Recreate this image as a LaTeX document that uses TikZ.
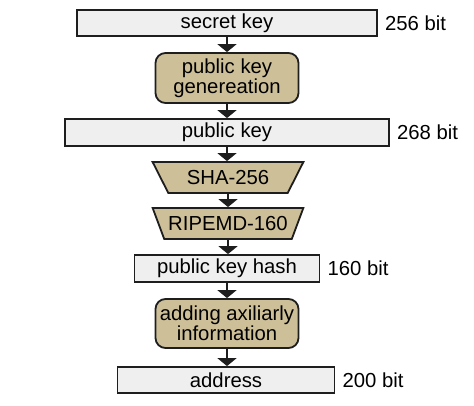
\documentclass[tikz,border=0pt]{standalone}
\usepackage{fontspec}
\setmainfont{Liberation Sans}
\usetikzlibrary{positioning,shapes.geometric,arrows.meta}
\definecolor{stagetan}{HTML}{CDBF98}
\definecolor{datagray}{HTML}{EFEFEF}
\definecolor{edgegray}{HTML}{1E1E1E}

\begin{document}
\begin{tikzpicture}[x=1pt, y=-1pt, font=\fontsize{20.3}{20}\selectfont,
    databox/.style={draw=edgegray, line width=1.8pt, fill=datagray, minimum height=26pt, inner sep=0pt},
    stagebox/.style={draw=edgegray, line width=1.8pt, fill=stagetan, rounded corners=10pt, minimum width=143pt, minimum height=50pt, align=center, inner sep=0pt},
    hashbox/.style={trapezium, shape border rotate=180, trapezium stretches=true, trapezium angle=53, minimum width=151pt, minimum height=31pt, draw=edgegray, line width=1.8pt, fill=stagetan, inner sep=0pt},
    bits/.style={inner sep=0pt, right=7pt of #1},
    flow/.style={-{Triangle[width=19pt,length=8pt]}, line width=1.8pt, draw=edgegray}]

    \useasboundingbox (0,0) rectangle (474,406);

    % Draw the key and hash boxes
    \node[databox, minimum width=300pt] (secret) at (227,23) {secret key};
    \node[stagebox] (gen) at (227,78) {public key\\genereation};
    \node[databox, minimum width=324pt, minimum height=27pt] (public) at (227,132.5) {public key};
    \node[hashbox] (sha) at (228,177.5) {SHA-256};
    \node[hashbox] (ripe) at (228,223.5) {RIPEMD-160};
    \node[databox, minimum width=185pt, minimum height=27pt] (pkhash) at (227,268.5) {public key hash};
    \node[stagebox, minimum height=49pt] (aux) at (227,323.5) {adding axiliarly\\information};
    \node[databox, minimum width=217pt] (addr) at (226,380) {address};

    % Bit lengths
    \node[bits=secret] (secretbits) {256 bit};
    \node[bits=public] (publicbits) {268 bit};
    \node[bits=pkhash] (hashbits) {160 bit};
    \node[bits=addr] (addrbits) {200 bit};

    % Draw the arrows
    \foreach \a/\b in {secret/gen, gen/public, public/sha, sha/ripe, ripe/pkhash, pkhash/aux, aux/addr} {
        \draw[flow] (\a.south) -- (\a.south |- \b.north);
    }
\end{tikzpicture}
\end{document}
